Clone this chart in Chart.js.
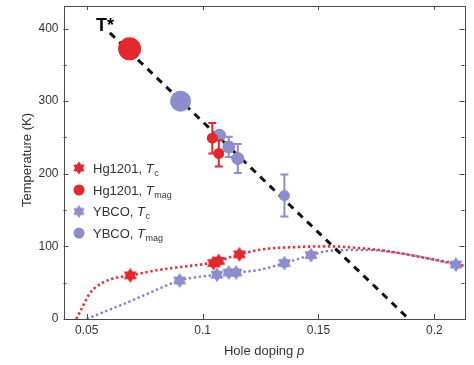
<!DOCTYPE html>
<html><head><meta charset="utf-8">
<script src="https://cdn.jsdelivr.net/npm/chart.js@4/dist/chart.umd.min.js"></script>
<style>html,body{margin:0;padding:0;background:#fff}#wrap{width:474px;height:365px;position:relative}</style>
</head><body><div id="wrap"><canvas id="c" width="474" height="365"></canvas></div>
<script>
// ---- data ----
const xTicks=[0.05,0.1,0.15,0.2];
const yTicks=[0,100,200,300,400];
const yMinorTicks=[50,150,250,350];
const hgTcP=[0.0688,0.1047,0.1069,0.1159];
const hgTcT=[60,77,80,89];
const ybTcP=[0.0901,0.1062,0.1113,0.1145,0.1353,0.1468,0.2093];
const ybTcT=[53,61,64,64,77,88,75];
const hgMagP=[0.0685,0.1042,0.1070];
const hgMagT=[372,249,228];
const hgMagErr=[0,21,18];
const ybMagP=[0.0905,0.1073,0.1113,0.1152,0.1353];
const ybMagT=[300,253,237,221,170];
const ybMagErr=[0,0,14,20,29];
const hgCurveP=[0.0455,0.047,0.0513,0.0569,0.063,0.0688,0.08,0.089,0.1047,0.1159,0.126,0.14,0.155,0.17,0.1765,0.198,0.2093,0.213];
const hgCurveT=[0,9,35,50,57,60,67,71,78,89,96,99,100,97,95,83,76,73];
const ybCurveP=[0.05,0.06,0.07,0.08,0.0901,0.1062,0.1145,0.125,0.1353,0.1468,0.155,0.17,0.19,0.2093,0.213];
const ybCurveT=[0,13,26,40,53,61,64,68,77,88,94,95,88,75,73];
const tStarP=[0.06,0.189];
const tStarT=[394,0];
const legendNames=['Hg1201, ','Hg1201, ','YBCO, ','YBCO, '];
const legendSubs=['c','mag','c','mag'];

// ---- styles ----
const RED='#e2282d', BLUE='#8d8ccd';
const hgMagRadius=[11.5,5.5,5.5];
const ybMagRadius=[10.5,6.5,6.5,6.5,5.5];
const FONT='"Liberation Sans", Arial, sans-serif';
Chart.defaults.font.family=FONT;
// keep big markers from enlarging the automatic layout padding
const SC=Chart.registry.getController('scatter');
if(SC){SC.prototype.getMaxOverflow=function(){return 0;};}

function makeStar(color,size){
  const c=document.createElement('canvas');c.width=c.height=size;
  const g=c.getContext('2d');const R=size/2-0.5,r=R*0.62,cx=size/2,cy=size/2;
  g.beginPath();
  for(let i=0;i<12;i++){const a=-Math.PI/2+i*Math.PI/6;const rr=i%2?r:R;g.lineTo(cx+rr*Math.cos(a),cy+rr*Math.sin(a));}
  g.closePath();g.fillStyle=color;g.fill();return c;
}
const starRed=makeStar(RED,16), starBlue=makeStar(BLUE,16);
const starRedL=makeStar(RED,14), starBlueL=makeStar(BLUE,14);

const pts=(xs,ys)=>xs.map((x,i)=>({x:x,y:ys[i]}));

const errPlugin={id:'err',afterDatasetDraw(chart,args){
  const ds=chart.data.datasets[args.index]; if(!ds.errs) return;
  const ctx=chart.ctx,xs=chart.scales.x,ys=chart.scales.y;
  ctx.save();ctx.strokeStyle=ds.backgroundColor;ctx.lineWidth=2;
  ds.data.forEach((p,i)=>{const e=ds.errs[i]; if(!e) return;
    const px=xs.getPixelForValue(p.x),y1=ys.getPixelForValue(p.y-e),y2=ys.getPixelForValue(p.y+e);
    ctx.beginPath();ctx.moveTo(px,y1);ctx.lineTo(px,y2);
    ctx.moveTo(px-4,y1);ctx.lineTo(px+4,y1);ctx.moveTo(px-4,y2);ctx.lineTo(px+4,y2);ctx.stroke();
  });
  ctx.restore();
}};

const framePlugin={id:'frame',afterDraw(chart){
  const ctx=chart.ctx,a=chart.chartArea,xs=chart.scales.x,ys=chart.scales.y;
  ctx.save();ctx.strokeStyle='#4a4a4a';ctx.lineWidth=1;
  ctx.strokeRect(Math.round(a.left)+0.5,Math.round(a.top)+0.5,Math.round(a.right-a.left),Math.round(a.bottom-a.top));
  ctx.beginPath();
  xTicks.forEach(v=>{const px=Math.round(xs.getPixelForValue(v))+0.5;
    ctx.moveTo(px,a.bottom);ctx.lineTo(px,a.bottom-5);ctx.moveTo(px,a.top);ctx.lineTo(px,a.top+4);});
  yTicks.forEach(v=>{const py=Math.round(ys.getPixelForValue(v))+0.5;
    ctx.moveTo(a.left,py);ctx.lineTo(a.left+5,py);ctx.moveTo(a.right,py);ctx.lineTo(a.right-5,py);});
  yMinorTicks.forEach(v=>{const py=Math.round(ys.getPixelForValue(v))+0.5;
    ctx.moveTo(a.left,py);ctx.lineTo(a.left+3,py);ctx.moveTo(a.right,py);ctx.lineTo(a.right-3,py);});
  ctx.stroke();
  // texts
  ctx.fillStyle='#333';
  ctx.textBaseline='alphabetic';
  const t1='Hole doping ';ctx.font='13px '+FONT;const w1=ctx.measureText(t1).width;
  ctx.font='italic 13px '+FONT;const w2=ctx.measureText('p').width;
  const cx=(a.left+a.right)/2, sx=cx-(w1+w2)/2;
  ctx.font='13px '+FONT;ctx.textAlign='left';ctx.fillText(t1,sx,355);
  ctx.font='italic 13px '+FONT;ctx.fillText('p',sx+w1,355);
  ctx.save();ctx.translate(31,160);ctx.rotate(-Math.PI/2);ctx.font='13px '+FONT;ctx.textAlign='center';ctx.fillText('Temperature (K)',0,0);ctx.restore();
  ctx.fillStyle='#000';ctx.font='bold 18px '+FONT;ctx.textAlign='left';ctx.fillText('T*',96,31);
  // legend
  const rows=[168,190,211.5,233];
  rows.forEach((ry,i)=>{
    const col=i<2?RED:BLUE;
    if(i%2===0){const im=i<2?starRedL:starBlueL;ctx.drawImage(im,79-im.width/2,ry-im.height/2);}
    else{ctx.beginPath();ctx.arc(79,ry,5.5,0,Math.PI*2);ctx.fillStyle=col;ctx.fill();}
    ctx.fillStyle='#333';ctx.font='13px '+FONT;ctx.textAlign='left';
    let x=93;const by=ry+4.5;
    ctx.fillText(legendNames[i],x,by);x+=ctx.measureText(legendNames[i]).width;
    ctx.font='italic 13px '+FONT;ctx.fillText('T',x,by);x+=ctx.measureText('T').width;
    ctx.font='9px '+FONT;ctx.fillText(legendSubs[i],x+0.5,by+3);
  });
  ctx.restore();
}};

new Chart(document.getElementById('c'),{
  type:'scatter',
  data:{datasets:[
    {label:'Hg1201 Tmag',data:pts(hgMagP,hgMagT),errs:hgMagErr,backgroundColor:RED,borderColor:RED,pointRadius:hgMagRadius,pointBorderWidth:0,order:0},
    {label:'YBCO Tmag',data:pts(ybMagP,ybMagT),errs:ybMagErr,backgroundColor:BLUE,borderColor:BLUE,pointRadius:ybMagRadius,pointBorderWidth:0,order:1},
    {label:'Hg1201 Tc',data:pts(hgTcP,hgTcT),backgroundColor:RED,pointStyle:starRed,order:2},
    {label:'YBCO Tc',data:pts(ybTcP,ybTcT),backgroundColor:BLUE,pointStyle:starBlue,order:3},
    {label:'T*',type:'line',data:pts(tStarP,tStarT),borderColor:'#111',borderWidth:3,borderDash:[7,6],pointRadius:0,fill:false,order:4},
    {label:'Hg1201 curve',type:'line',data:pts(hgCurveP,hgCurveT),borderColor:'#e0343a',borderWidth:2.6,borderDash:[2.4,2.6],pointRadius:0,cubicInterpolationMode:'monotone',fill:false,order:5},
    {label:'YBCO curve',type:'line',data:pts(ybCurveP,ybCurveT),borderColor:'#8583c6',borderWidth:2.4,borderDash:[2.4,2.6],pointRadius:0,cubicInterpolationMode:'monotone',fill:false,order:6}
  ]},
  options:{
    responsive:false,animation:false,events:[],
    layout:{padding:{top:6,right:9.5,left:0,bottom:0}},
    plugins:{legend:{display:false},tooltip:{enabled:false}},
    scales:{
      x:{type:'linear',min:0.04,max:0.213,
        afterBuildTicks:s=>{s.ticks=xTicks.map(v=>({value:v}));},
        afterFit:s=>{s.height=46;s.paddingLeft=0;s.paddingRight=0;},
        grid:{display:false,drawTicks:false},border:{display:false},
        ticks:{padding:4,color:'#333',font:{size:12},callback:v=>String(v)}},
      y:{type:'linear',min:0,max:431,
        afterBuildTicks:s=>{s.ticks=yTicks.map(v=>({value:v}));},
        afterFit:s=>{s.width=63.5;s.paddingTop=0;s.paddingBottom=0;},
        grid:{display:false,drawTicks:false},border:{display:false},
        ticks:{padding:5,color:'#333',font:{size:12},callback:v=>String(v)}}
    }
  },
  plugins:[errPlugin,framePlugin]
});
</script></body></html>
